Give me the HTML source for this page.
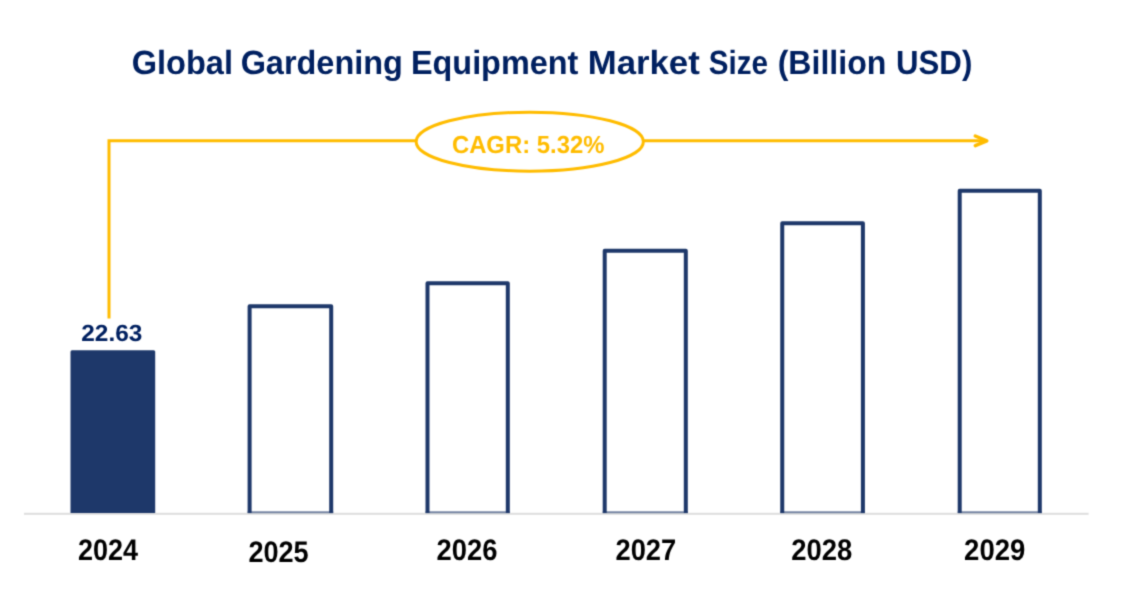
<!DOCTYPE html>
<html><head><meta charset="utf-8">
<style>
html,body{margin:0;padding:0;background:#ffffff;width:1127px;height:615px;overflow:hidden}
svg{position:absolute;left:0;top:0;display:block;will-change:transform}
text{font-family:"Liberation Sans",sans-serif;font-weight:bold;text-rendering:geometricPrecision}
</style></head><body>
<svg width="1127" height="615" viewBox="0 0 1127 615">
<defs><filter id="soft" x="-1%" y="-1%" width="102%" height="102%" color-interpolation-filters="sRGB"><feConvolveMatrix order="3" kernelMatrix="0.02768 0.11101 0.02768 0.11101 0.44521 0.11101 0.02768 0.11101 0.02768" divisor="1" edgeMode="duplicate"/></filter><clipPath id="plot"><rect x="0" y="0" width="1127" height="513"/></clipPath></defs>
<g filter="url(#soft)">
<rect x="0" y="0" width="1127" height="615" fill="#fff"/>
<text transform="translate(131.74 74) scale(0.9711 1)" font-size="33.5" fill="#002060">Global</text>
<text transform="translate(240.64 74) scale(0.9683 1)" font-size="33.5" fill="#002060">Gardening</text>
<text transform="translate(410.97 74) scale(0.9666 1)" font-size="33.5" fill="#002060">Equipment</text>
<text transform="translate(587.72 74) scale(1.037 1)" font-size="33.5" fill="#002060">Market</text>
<text transform="translate(708.82 74) scale(0.8829 1)" font-size="33.5" fill="#002060">Size</text>
<text transform="translate(777.67 74) scale(0.9572 1)" font-size="33.5" fill="#002060">(Billion</text>
<text transform="translate(896.04 74) scale(0.9309 1)" font-size="33.5" fill="#002060">USD)</text>
<path d="M109 318.5 V140.75 H416" fill="none" stroke="#FFBC00" stroke-width="3"/>
<ellipse cx="529.75" cy="141.65" rx="113.6" ry="29.5" fill="#fff" stroke="#FFBC00" stroke-width="3"/>
<path d="M643.5 140.75 H986" fill="none" stroke="#FFBC00" stroke-width="3"/>
<path d="M975.3 136 L986.8 140.8 L975.3 145.6" fill="none" stroke="#FFBC00" stroke-width="3.5" stroke-linecap="round" stroke-linejoin="round"/>
<text transform="translate(451.91 152.99) scale(0.9941 1.0235)" font-size="24" fill="#FFBC00">CAGR: 5.32%</text>
<rect x="24" y="512.8" width="1064.6" height="2" fill="#dedede"/>
<path d="M70.5 513 V351.8 Q70.5 350.3 72 350.3 H153.7 Q155.2 350.3 155.2 351.8 V513 Z" fill="#1E386A"/>
<g clip-path="url(#plot)">
<path d="M249.6 513.3 V306.3 H331.2 V513.3" fill="none" stroke="#1E386A" stroke-width="4" stroke-linejoin="round"/>
<path d="M427.5 513.3 V283.2 H507.8 V513.3" fill="none" stroke="#1E386A" stroke-width="4" stroke-linejoin="round"/>
<path d="M604.7 513.3 V250.7 H685.8 V513.3" fill="none" stroke="#1E386A" stroke-width="4" stroke-linejoin="round"/>
<path d="M782.25 513.3 V223.2 H862.9 V513.3" fill="none" stroke="#1E386A" stroke-width="4" stroke-linejoin="round"/>
<path d="M959.7 513.3 V190.7 H1039.8 V513.3" fill="none" stroke="#1E386A" stroke-width="4" stroke-linejoin="round"/>
</g>
<rect x="247.6" y="511.3" width="85.6" height="1.9" fill="#1E386A" fill-opacity="0.62"/>
<rect x="425.5" y="511.3" width="84.3" height="1.9" fill="#1E386A" fill-opacity="0.62"/>
<rect x="602.7" y="511.3" width="85.1" height="1.9" fill="#1E386A" fill-opacity="0.62"/>
<rect x="780.25" y="511.3" width="84.65" height="1.9" fill="#1E386A" fill-opacity="0.62"/>
<rect x="957.7" y="511.3" width="84.1" height="1.9" fill="#1E386A" fill-opacity="0.62"/>
<text transform="translate(81.27 340.9) scale(1.0385 0.994)" font-size="23.5" fill="#002060">22.63</text>
<text transform="translate(77.99 559.8) scale(0.9147 1.0096)" font-size="29.5" fill="#000">2024</text>
<text transform="translate(248.38 561.8) scale(0.9185 1.0048)" font-size="29.5" fill="#000">2025</text>
<text transform="translate(436.47 559.8) scale(0.9277 1.0096)" font-size="29.5" fill="#000">2026</text>
<text transform="translate(615.47 559.8) scale(0.9258 1.0096)" font-size="29.5" fill="#000">2027</text>
<text transform="translate(791.17 559.8) scale(0.9309 1.0096)" font-size="29.5" fill="#000">2028</text>
<text transform="translate(964.07 559.8) scale(0.9339 1.0096)" font-size="29.5" fill="#000">2029</text>
</g>
</svg>
</body></html>
